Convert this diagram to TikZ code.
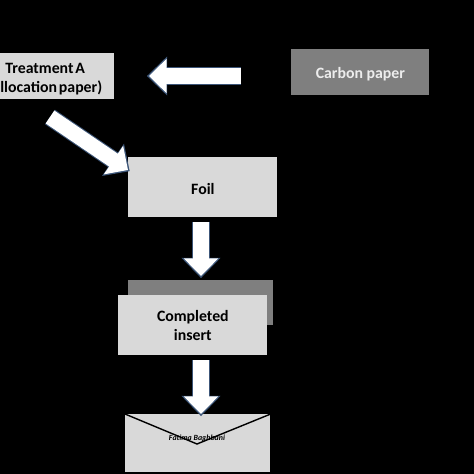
\documentclass[tikz,border=0pt]{standalone}
\usepackage{fontspec}
\setmainfont{Carlito}
\usepackage{tikz}
\usetikzlibrary{arrows.meta,calc}
\definecolor{softGray}{RGB}{217,217,217}
\definecolor{deepGray}{RGB}{127,127,127}
\definecolor{edgeBlue}{RGB}{60,85,120}
\tikzset{
  box/.style={fill=softGray, inner sep=0pt, align=center, font=\fontsize{9}{11}\selectfont\bfseries, text=black},
  darkbox/.style={box, fill=deepGray, text=white!93!black},
  arrowEdge/.style={draw=edgeBlue, line width=10pt, shorten >=-1.2pt, -{Triangle[width=21.5pt,length=11.5pt]}},
  arrowFill/.style={draw=white, line width=8.8pt, -{Triangle[width=19pt,length=10pt]}}
}
\begin{document}
\begin{tikzpicture}[x=0.02cm, y=-0.02cm]
    \useasboundingbox[fill=black] (0,0) rectangle (474,474);

    \node[box, anchor=north west, minimum width=114*0.02cm, minimum height=46*0.02cm, text width=114*0.02cm, align=left] (TREAT) at (0,53)
      {\spaceskip=0.12em\rule{0pt}{9pt}\hspace*{0.1cm}Treatment A\\llocation paper)};
    \node[darkbox, anchor=north west, minimum width=138*0.02cm, minimum height=46*0.02cm] (CARBON) at (291,49) {\rule{0pt}{8.5pt}Carbon paper};
    \node[box, anchor=north west, minimum width=149*0.02cm, minimum height=60*0.02cm] (FOIL) at (128,157) {\rule{0pt}{8.5pt}Foil};

    \node[darkbox, anchor=north west, minimum width=145*0.02cm, minimum height=45*0.02cm] (BACK) at (128,280) {};
    \node[box, anchor=north west, minimum width=149*0.02cm, minimum height=60*0.02cm] (INSERT) at (118,295) {Completed\\insert};

    \node[box, anchor=north west, minimum width=145*0.02cm, minimum height=58*0.02cm] (ENV) at (125,414) {};
    \coordinate (FOLD) at (197,444);
    \draw[black, line width=0.8pt] (ENV.north west) -- (FOLD) -- (ENV.north east);
    \node[font=\fontsize{4.5}{5}\selectfont\bfseries\itshape, text=black, inner sep=0pt] (SIGN) at (197,438.5) {Fatima Baghbani};

    \coordinate (A1) at (241,76);  \coordinate (B1) at (149,76);
    \coordinate (A2) at (50,117);  \coordinate (B2) at (128,170);
    \coordinate (A3) at (201,222); \coordinate (B3) at (201,276);
    \coordinate (A4) at (201,360); \coordinate (B4) at (201,414);

    \foreach \layer in {arrowEdge,arrowFill}
      \foreach \from/\to in {A1/B1,A2/B2,A3/B3,A4/B4}
        \draw[\layer] (\from) -- (\to);
\end{tikzpicture}
\end{document}
